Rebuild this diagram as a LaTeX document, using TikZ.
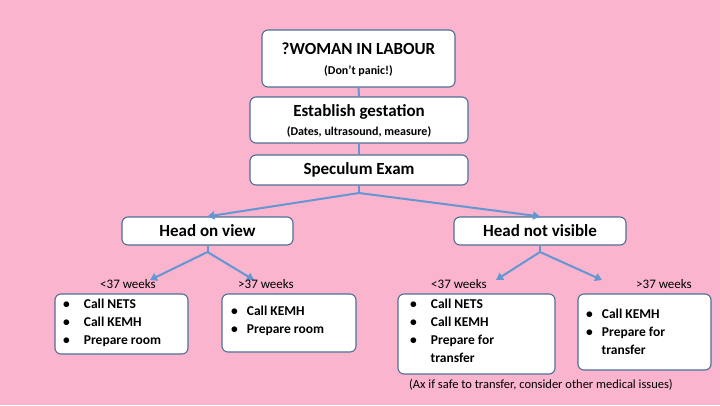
\documentclass[tikz,border=0pt]{standalone}
\usepackage{fontspec}
\setmainfont{Carlito}
\usetikzlibrary{arrows.meta}
\definecolor{bg}{RGB}{250,180,205}
\definecolor{bd}{RGB}{79,110,150}
\definecolor{ln}{RGB}{100,150,210}
\begin{document}
\begin{tikzpicture}[x=1pt,y=-1pt,
 box/.style={draw=bd,line width=1.1pt,fill=white,rounded corners=6pt},
 con/.style={draw=ln,line width=2pt},
 arr/.style={con,-{Triangle[length=7pt,width=8pt]}},
 lab/.style={font=\fontsize{13}{14}\selectfont,inner sep=0pt,anchor=west},
 bt/.style={anchor=north west,align=left,font=\fontsize{13.5}{18}\selectfont\bfseries,inner sep=0pt}]
\fill[bg] (0,0) rectangle (720,405);
\useasboundingbox (0,0) rectangle (720,405);
\node[box,minimum width=193pt,minimum height=57pt] (w) at (358.5,58.5) {};
\node (wt) at (358.5,49) {\fontsize{17}{19}\selectfont\bfseries ?WOMAN IN LABOUR};
\node (ws) at (358.5,71) {\fontsize{12}{14}\selectfont\bfseries (Don’t panic!)};
\node[box,minimum width=218pt,minimum height=46pt] (e) at (359,120) {};
\node (et) at (359,112) {\fontsize{17}{19}\selectfont\bfseries Establish gestation};
\node (es) at (359,132) {\fontsize{12}{14}\selectfont\bfseries (Dates, ultrasound, measure)};
\node[box,minimum width=218pt,minimum height=30pt,font=\fontsize{17}{19}\selectfont\bfseries] (s) at (359,170) {Speculum Exam};
\node[box,minimum width=171pt,minimum height=28pt,font=\fontsize{17}{19}\selectfont\bfseries] (h1) at (207.5,231) {Head on view};
\node[box,minimum width=172pt,minimum height=28pt,font=\fontsize{17}{19}\selectfont\bfseries] (h2) at (540,231) {Head not visible};
\draw[con] (w.south) -- (e.north);
\draw[con] (e.south) -- (s.north);
\coordinate (sb) at (359,193);
\draw[con] (s.south) -- (sb);
\draw[arr] (sb) -- (h1.north);
\draw[arr] (sb) -- (h2.north);
\coordinate (h1b) at (207.5,252);
\coordinate (h2b) at (540,252);
\draw[con] (h1.south) -- (h1b);
\draw[con] (h2.south) -- (h2b);
\coordinate (a1) at (150,280);\coordinate (a2) at (254,280);
\coordinate (a3) at (496,280);\coordinate (a4) at (602,280);
\draw[arr] (h1b) -- (a1);\draw[arr] (h1b) -- (a2);
\draw[arr] (h2b) -- (a3);\draw[arr] (h2b) -- (a4);
\node[lab] (l1) at (100,284) {<37 weeks};
\node[lab] (l2) at (238,284) {>37 weeks};
\node[lab] (l3) at (431,284) {<37 weeks};
\node[lab] (l4) at (636,284) {>37 weeks};
\node[box,minimum width=133pt,minimum height=60pt] (b1) at (121.5,324) {};
\node[bt] (t1) at (63,299) {\textbullet\hspace{14pt}Call NETS\\\textbullet\hspace{14pt}Call KEMH\\\textbullet\hspace{14pt}Prepare room};
\node[box,minimum width=134pt,minimum height=58pt] (b2) at (289,323) {};
\node[bt] (t2) at (231,306) {\textbullet\hspace{9pt}Call KEMH\\\textbullet\hspace{9pt}Prepare room};
\node[box,minimum width=157pt,minimum height=80pt] (b3) at (476.5,334) {};
\node[bt] (t3) at (410,299) {\textbullet\hspace{14pt}Call NETS\\\textbullet\hspace{14pt}Call KEMH\\\textbullet\hspace{14pt}Prepare for\\\hspace*{20.5pt}transfer};
\node[box,minimum width=133pt,minimum height=76pt] (b4) at (644.5,332) {};
\node[bt] (t4) at (586,309) {\textbullet\hspace{9pt}Call KEMH\\\textbullet\hspace{9pt}Prepare for\\\hspace*{15.5pt}transfer};
\node[font=\fontsize{12.5}{14}\selectfont,inner sep=0pt] (f) at (541,385) {(Ax if safe to transfer, consider other medical issues)};
\end{tikzpicture}
\end{document}
